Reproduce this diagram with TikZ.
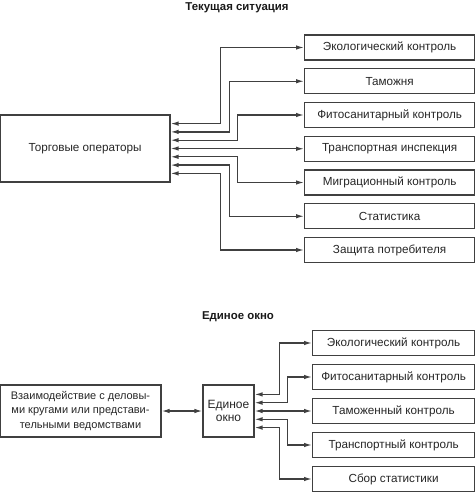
\documentclass[tikz,border=0pt]{standalone}
\usepackage{fontspec}
\setmainfont{Liberation Sans}
\usetikzlibrary{arrows.meta}

\begin{document}
\begin{tikzpicture}[x = 1pt, y = -1pt,
	box/.style = {draw = black!75, line width = 1.2pt, minimum height = 25pt, inner sep = 0pt, text = black!85, font = \fontsize{11.7}{14.5}\selectfont},
	link/.style = {draw = black!75, line width = 1.3pt, {Latex[length = 8pt, width = 4.5pt]}-{Latex[length = 8pt, width = 4.5pt]}},
	heading/.style = {text = black!90, font = \fontsize{11.4}{13}\selectfont\bfseries}]

	\useasboundingbox (0, 0) rectangle (474, 492);

	% Definition
	
	\def\gap{8.3}		% Spacing of arrows at a box
	
	% Current situation
	
	\node [heading] (title1) at (237, 8) {Текущая ситуация};
	\node [box, minimum width = 170pt, minimum height = 67pt] (trade) at (85, 148.5) {Торговые операторы};
	
	\foreach \name/\txt/\dx [count = \i] in {eco/Экологический контроль/50, customs/Таможня/59, phyto/Фитосанитарный контроль/67, transport/Транспортная инспекция/67, migration/Миграционный контроль/67, stats/Статистика/59, consumer/Защита потребителя/50}
	{
		\node [box, minimum width = 170pt, anchor = west] (\name) at (304, {47.5 + 33.75*(\i - 1)}) {\txt};
		\draw [link] ([yshift = (4 - \i)*\gap pt] trade.east) -- ++(\dx, 0) |- (\name.west);
	}
	
	% Single window
	
	\node [heading] (title2) at (238, 317) {Единое окно};
	\node [box, minimum width = 161pt, minimum height = 52pt, align = center, font = \fontsize{11}{14.5}\selectfont] (biz) at (80.5, 411) {Взаимодействие с деловы-\\ми кругами или представи-\\тельными ведомствами};
	\node [box, minimum width = 51pt, minimum height = 52pt, align = center, font = \fontsize{12}{13}\selectfont] (window) at (228.5, 411) {Единое\\окно};
	
	\draw [link] (biz) -- (window);
	
	\foreach \name/\txt/\dx [count = \i] in {eco2/Экологический контроль/25, phyto2/Фитосанитарный контроль/33, customs2/Таможенный контроль/33, transport2/Транспортный контроль/33, stats2/Сбор статистики/25}
	{
		\node [box, minimum width = 162pt, anchor = west] (\name) at (312, {343 + 34*(\i - 1)}) {\txt};
		\draw [link] ([yshift = (3 - \i)*\gap pt] window.east) -- ++(\dx, 0) |- (\name.west);
	}

\end{tikzpicture}
\end{document}
